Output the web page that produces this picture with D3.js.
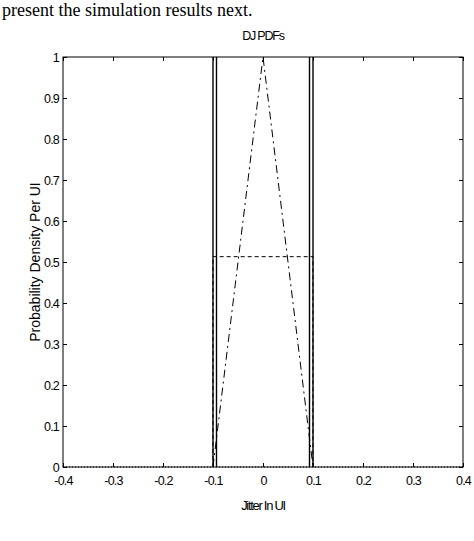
<!DOCTYPE html><html><head><script src="https://d3js.org/d3.v7.min.js"></script>
<style>body{margin:0;background:#fff}</style></head><body><svg id="c" width="474" height="541"></svg>
<script>
const xTicks=[-0.4,-0.3,-0.2,-0.1,0,0.1,0.2,0.3,0.4];
const yTicks=[0,0.1,0.2,0.3,0.4,0.5,0.6,0.7,0.8,0.9,1];
const solidA=[[-0.1,0],[-0.1,1]], solidB=[[-0.093,0],[-0.093,1]], solidC=[[0.093,0],[0.093,1]], solidD=[[0.1,0],[0.1,1]];
const triangle=[[-0.1,0],[0,1],[0.1,0]];
const uniform=[[-0.1,0],[-0.1,0.513],[0.1,0.513],[0.1,0]];
const svg=d3.select("#c");
const m={l:63,r:463,t:57,b:467};
const x=d3.scaleLinear().domain([-0.4,0.4]).range([m.l,m.r]);
const y=d3.scaleLinear().domain([0,1]).range([m.b,m.t]);
svg.append("text").attr("x",2).attr("y",16).attr("font-family","Liberation Serif").attr("font-size",18).text("present the simulation results next.");
svg.append("rect").attr("x",m.l).attr("y",m.t).attr("width",m.r-m.l).attr("height",m.b-m.t).attr("fill","none").attr("stroke","#000");
const xa=svg.append("g").attr("transform",`translate(0,${m.b})`).call(d3.axisBottom(x).tickValues(xTicks).tickSize(-4).tickFormat(d=>d===0?"0":String(d)));
const ya=svg.append("g").attr("transform",`translate(${m.l},0)`).call(d3.axisLeft(y).tickValues(yTicks).tickSize(-4).tickFormat(d=>String(d)));
svg.append("g").attr("transform",`translate(0,${m.t})`).call(d3.axisTop(x).tickValues(xTicks).tickSize(-4).tickFormat(""));
svg.append("g").attr("transform",`translate(${m.r},0)`).call(d3.axisRight(y).tickValues(yTicks).tickSize(-4).tickFormat(""));
svg.selectAll(".domain").remove();
svg.selectAll(".tick text").attr("font-family","Liberation Sans").attr("font-size",12.5).attr("fill","#000").style("letter-spacing","-0.8px");
xa.selectAll(".tick text").attr("dy","1.2em");
ya.selectAll(".tick text").attr("dx","-1px");
const line=d3.line().x(d=>x(d[0])).y(d=>y(d[1]));
[solidA,solidB,solidC,solidD].forEach(s=>svg.append("path").attr("d",line(s)).attr("fill","none").attr("stroke","#000").attr("stroke-width",1.4));
svg.append("path").attr("d",line(triangle)).attr("fill","none").attr("stroke","#000").attr("stroke-dasharray","8,4,2,4");
svg.append("path").attr("d",line(uniform)).attr("fill","none").attr("stroke","#000").attr("stroke-dasharray","4,3");
svg.append("path").attr("d",line([[-0.4,0],[0.4,0]])).attr("fill","none").attr("stroke","#000").attr("stroke-dasharray","1,2");
svg.append("text").attr("x",(m.l+m.r)/2).attr("y",40).attr("text-anchor","middle").attr("font-family","Liberation Sans").attr("font-size",12.5).style("letter-spacing","-1.2px").text("DJ PDFs");
svg.append("text").attr("x",(m.l+m.r)/2).attr("y",510).attr("text-anchor","middle").attr("font-family","Liberation Sans").attr("font-size",13).style("letter-spacing","-1.3px").text("Jitter In UI");
svg.append("text").attr("transform",`translate(40,${(m.t+m.b)/2}) rotate(-90)`).attr("text-anchor","middle").attr("font-family","Liberation Sans").attr("font-size",14).text("Probability Density Per UI");
</script></body></html>
